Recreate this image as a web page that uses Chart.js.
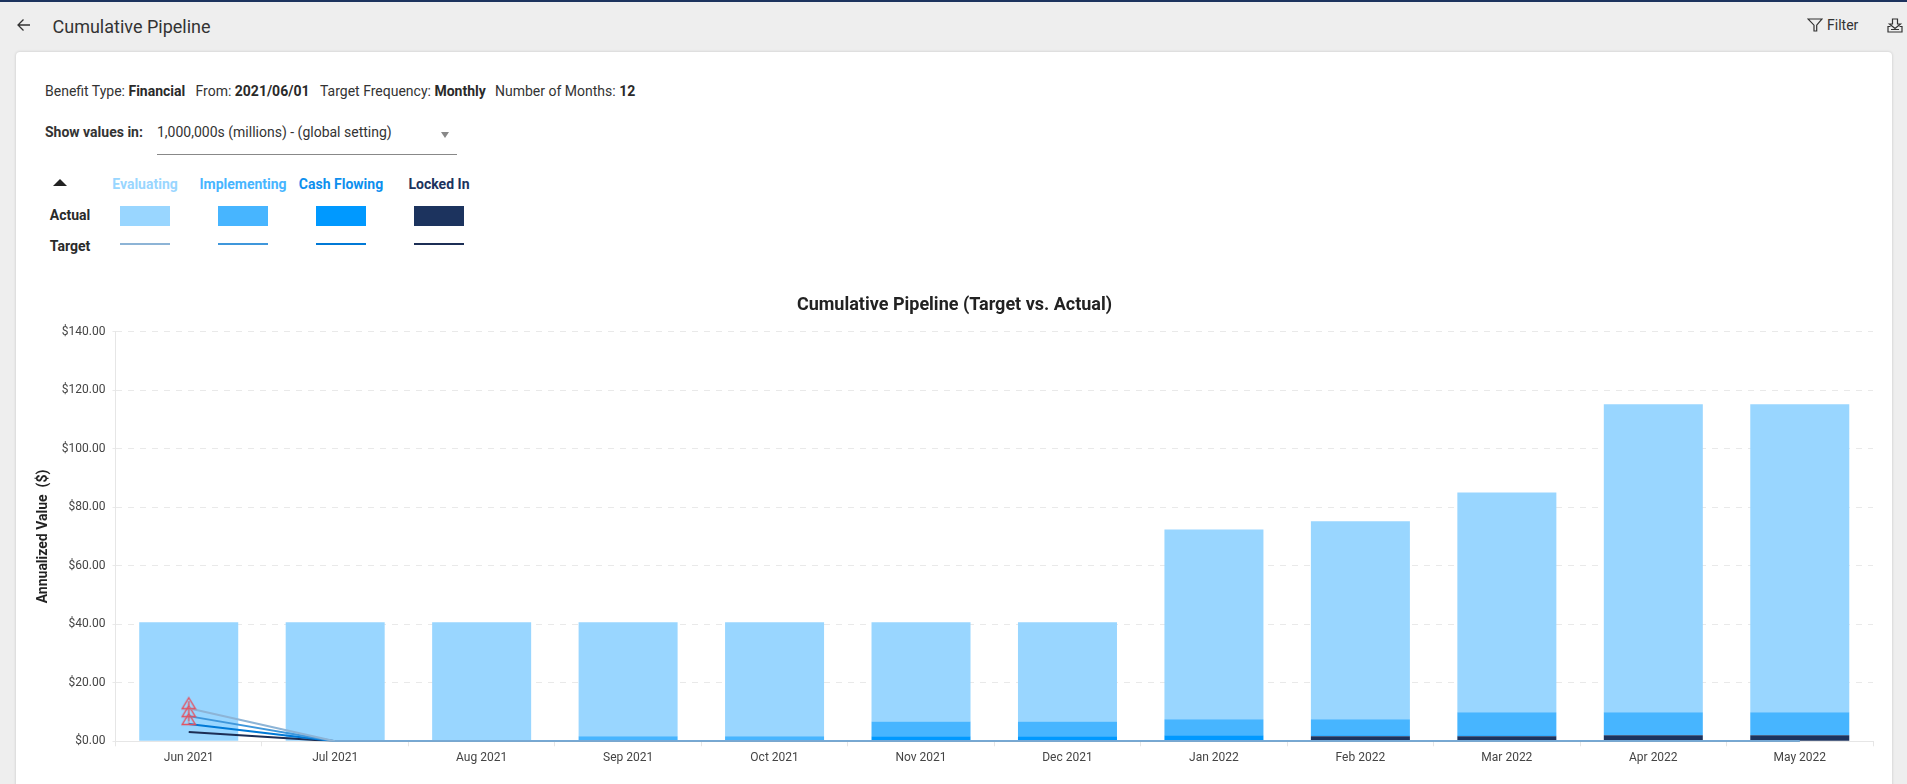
<!DOCTYPE html>
<html>
<head>
<meta charset="utf-8">
<title>Cumulative Pipeline</title>
<script src="https://cdn.jsdelivr.net/npm/chart.js@4/dist/chart.umd.min.js"></script>
<style>
html,body{margin:0;padding:0;width:1907px;height:784px;overflow:hidden;background:#eeeeee;font-family:Roboto,sans-serif;color:#333}
.abs{position:absolute;white-space:nowrap}
#topbar{position:absolute;left:0;top:0;width:1907px;height:2px;background:#1c335e}
#card{position:absolute;left:16px;top:52px;width:1876px;height:740px;background:#fff;border-radius:4px;box-shadow:0 0 3px rgba(0,0,0,.18)}
#wrap{position:absolute;left:32px;top:270px;width:1845px;height:514px}
.cc{transform:translate(-50%,-50%)}
.vc{transform:translateY(-50%)}
.hd{font-size:14px;font-weight:700}
b{font-weight:700;color:#2a2a2a}
.sw{position:absolute;width:50px;height:20px;top:206px}
.tl{position:absolute;width:50px;height:2px;top:243px}
</style>
</head>
<body>
<div id="topbar"></div>
<svg class="abs" style="left:16px;top:17px" width="16" height="16" viewBox="0 0 16 16"><path d="M14 8H2.5M7.5 2.5 2 8l5.5 5.5" fill="none" stroke="#333" stroke-width="1.3"/></svg>
<div class="abs vc" style="left:52.5px;top:26px;font-size:18px;color:#333">Cumulative Pipeline</div>
<svg class="abs" style="left:1807px;top:17px" width="16" height="16" viewBox="0 0 16 16"><path d="M1 2h14L9.7 8.2V14H7V8.2Z" fill="none" stroke="#333" stroke-width="1.2"/></svg>
<div class="abs vc" style="left:1827px;top:25px;font-size:14px;color:#333">Filter</div>
<svg class="abs" style="left:1887px;top:18px" width="16" height="15" viewBox="0 0 16 15"><path d="M5.5 1h5v5h3L8 10.5 2.5 6h3ZM3.5 8.5H1V14h14V8.5h-2.5M4 11.5h8" fill="none" stroke="#333" stroke-width="1.2"/></svg>
<div id="card"></div>
<div class="abs vc" style="left:45px;top:91px;font-size:14px">Benefit Type: <b>Financial</b></div>
<div class="abs vc" style="left:195.5px;top:91px;font-size:14px">From: <b>2021/06/01</b></div>
<div class="abs vc" style="left:320px;top:91px;font-size:14px">Target Frequency: <b>Monthly</b></div>
<div class="abs vc" style="left:495px;top:91px;font-size:14px">Number of Months: <b>12</b></div>
<div class="abs vc" style="left:45px;top:132px;font-size:14px;font-weight:700">Show values in:</div>
<div class="abs vc" style="left:157px;top:132px;font-size:14px">1,000,000s (millions) - (global setting)</div>
<svg class="abs" style="left:441px;top:132px" width="8" height="6"><path d="M0 0h8L4 6Z" fill="#888"/></svg>
<div class="abs" style="left:157px;top:154px;width:300px;height:1px;background:#888"></div>
<svg class="abs" style="left:53px;top:179px" width="14" height="7"><path d="M0 7 7 0l7 7Z" fill="#222"/></svg>
<div class="abs cc hd" style="left:145px;top:184px;color:#99d6ff">Evaluating</div>
<div class="abs cc hd" style="left:243px;top:184px;color:#47b5ff">Implementing</div>
<div class="abs cc hd" style="left:341px;top:184px;color:#0d8fee">Cash Flowing</div>
<div class="abs cc hd" style="left:439px;top:184px;color:#1c335e">Locked In</div>
<div class="abs cc hd" style="left:70px;top:215px;color:#2a2a2a">Actual</div>
<div class="abs cc hd" style="left:70px;top:246px;color:#2a2a2a">Target</div>
<div class="sw" style="left:120px;background:#99d6ff"></div>
<div class="sw" style="left:218px;background:#47b5ff"></div>
<div class="sw" style="left:316px;background:#0099ff"></div>
<div class="sw" style="left:414px;background:#1c335e"></div>
<div class="tl" style="left:120px;background:#8db4d6"></div>
<div class="tl" style="left:218px;background:#3f97db"></div>
<div class="tl" style="left:316px;background:#0079d6"></div>
<div class="tl" style="left:414px;background:#1c2e55"></div>
<div id="wrap"><canvas id="c"></canvas></div>
<script>
const categories = ["Jun 2021","Jul 2021","Aug 2021","Sep 2021","Oct 2021","Nov 2021","Dec 2021","Jan 2022","Feb 2022","Mar 2022","Apr 2022","May 2022"];
const actualLockedIn = [0,0,0,0,0,0,0,0,1.7,1.7,2.05,2.05];
const actualCashFlowing = [0,0,0,0,0,1.7,1.7,2.05,0.35,0.35,0,0];
const actualImplementing = [0,0,0,1.7,1.7,5.1,5.1,5.45,5.45,7.85,7.85,7.85];
const actualEvaluating = [40.7,40.7,40.7,39,39,33.9,33.9,64.9,67.7,75.1,105.3,105.3];
const targetEvaluating = [11.3,0,0,0,0,0,0,0,0,0,0,0];
const targetImplementing = [8.6,0,0,0,0,0,0,0,0,0,0,0];
const targetCashFlowing = [5.9,0,0,0,0,0,0,0,0,0,0,0];
const targetLockedIn = [3.2,0,0,0,0,0,0,0,0,0,0,0];

function warningMark(){
  const c = document.createElement('canvas');
  c.width = 16; c.height = 24;
  const g = c.getContext('2d');
  g.strokeStyle = '#e4505f'; g.lineWidth = 1.4;
  g.beginPath(); g.moveTo(8,1.5); g.lineTo(14.6,12.5); g.lineTo(1.4,12.5); g.closePath(); g.stroke();
  g.beginPath(); g.moveTo(8,5); g.lineTo(8,9.5); g.moveTo(8,10.5); g.lineTo(8,11.8); g.stroke();
  return c;
}
const mark = warningMark();
function bar(label,data,color){return {type:'bar',label,data,backgroundColor:color,stack:'actual',order:5,categoryPercentage:1,barPercentage:0.676,borderWidth:0};}
function line(label,data,color,marked,order){return {type:'line',label,data,stack:label,borderColor:color,backgroundColor:color,borderWidth:2,tension:0,fill:false,order,
  pointBorderWidth:0,pointStyle:marked?[mark,false,false,false,false,false,false,false,false,false,false,false]:false,pointRadius:marked?[1,0,0,0,0,0,0,0,0,0,0,0]:0};}

new Chart(document.getElementById('c'),{
  data:{labels:categories,datasets:[
    bar('Actual Locked In',actualLockedIn,'#1c335e'),
    bar('Actual Cash Flowing',actualCashFlowing,'#0099ff'),
    bar('Actual Implementing',actualImplementing,'#47b5ff'),
    bar('Actual Evaluating',actualEvaluating,'#99d6ff'),
    line('Target Locked In',targetLockedIn,'#1c2e55',false,4),
    line('Target Cash Flowing',targetCashFlowing,'#0079d6',true,3),
    line('Target Implementing',targetImplementing,'#3f97db',true,2),
    line('Target Evaluating',targetEvaluating,'#8db4d6',true,1)
  ]},
  options:{
    responsive:true,maintainAspectRatio:false,animation:false,
    layout:{padding:0},
    plugins:{
      legend:{display:false},tooltip:{enabled:false},
      title:{display:true,text:'Cumulative Pipeline (Target vs. Actual)',color:'#222',font:{family:'Roboto',size:18,weight:'700'},padding:{top:24.6,bottom:15.4}}
    },
    scales:{
      x:{stacked:true,
        grid:{drawOnChartArea:false,drawTicks:true,tickLength:5,color:'#e6e6e6'},
        border:{color:'#e6e6e6',width:1},
        ticks:{color:'#444',font:{family:'Roboto',size:12},padding:4,maxRotation:0},
        afterFit(s){s.height=42.7;s.paddingLeft=0;s.paddingRight=0;}
      },
      y:{stacked:true,min:0,max:140,
        grid:{color:'#e9e9e9',tickLength:3},
        border:{color:'#e6e6e6',width:1,dash:[6,6]},
        ticks:{stepSize:20,color:'#444',font:{family:'Roboto',size:12},padding:7,callback:v=>'$'+v.toFixed(2)},
        title:{display:true,text:'Annualized Value  ($)',color:'#222',font:{family:'Roboto',size:14,weight:'700'},padding:{top:2.6,bottom:0}},
        afterFit(s){s.width=83.5;}
      }
    }
  }
});
</script>
</body>
</html>
